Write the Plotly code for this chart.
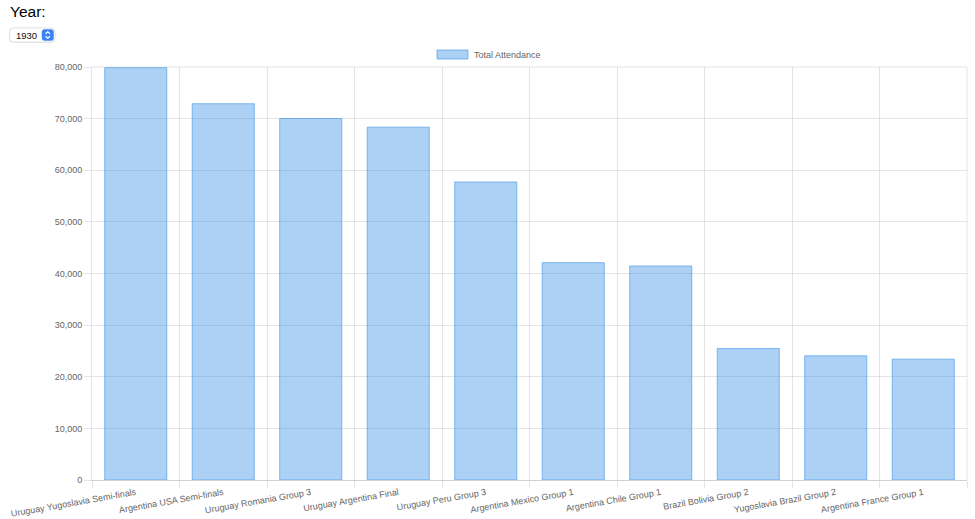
import plotly.graph_objects as go

matches = [
    "Uruguay Yugoslavia Semi-finals",
    "Argentina USA Semi-finals",
    "Uruguay Romania Group 3",
    "Uruguay Argentina Final",
    "Uruguay Peru Group 3",
    "Argentina Mexico Group 1",
    "Argentina Chile Group 1",
    "Brazil Bolivia Group 2",
    "Yugoslavia Brazil Group 2",
    "Argentina France Group 1",
]
attendance = [79867, 72886, 70022, 68346, 57735, 42100, 41459, 25466, 24059, 23409]
series_name = "Total Attendance"
year_label = "Year:"
selected_year = "1930"

W, H = 975, 519
L, R, T, B = 92, 8, 67, 39
PW, PH = W - L - R, H - T - B


def px(x):
    return (x - L) / PW


def py(y):
    return (H - B - y) / PH


def rounded(x0, y0, x1, y1, r):
    # rounded rectangle path in paper coordinates from pixel corners
    return (
        f"M {px(x0 + r)},{py(y0)} L {px(x1 - r)},{py(y0)} "
        f"Q {px(x1)},{py(y0)} {px(x1)},{py(y0 + r)} "
        f"L {px(x1)},{py(y1 - r)} Q {px(x1)},{py(y1)} {px(x1 - r)},{py(y1)} "
        f"L {px(x0 + r)},{py(y1)} Q {px(x0)},{py(y1)} {px(x0)},{py(y1 - r)} "
        f"L {px(x0)},{py(y0 + r)} Q {px(x0)},{py(y0)} {px(x0 + r)},{py(y0)} Z"
    )


FONT = "Liberation Sans, Arial, sans-serif"
FILL = "rgba(50,140,230,0.40)"
EDGE = "rgba(50,140,230,0.55)"
GRID = "rgba(0,0,0,0.10)"

fig = go.Figure(
    go.Bar(
        x=matches,
        y=attendance,
        name=series_name,
        marker=dict(color=FILL, line=dict(color=EDGE, width=1)),
        showlegend=False,
    )
)

shapes = [
    # legend swatch
    dict(type="rect", xref="paper", yref="paper",
         x0=px(437), x1=px(468), y0=py(59), y1=py(50),
         fillcolor=FILL, line=dict(color=EDGE, width=1)),
    # select box shadow + box
    dict(type="path", xref="paper", yref="paper",
         path=rounded(9, 27.5, 55.5, 43, 4),
         fillcolor="rgba(0,0,0,0.06)", line=dict(width=0)),
    dict(type="path", xref="paper", yref="paper",
         path=rounded(9.5, 28, 55, 42, 4),
         fillcolor="white", line=dict(color="rgba(0,0,0,0.12)", width=0.8)),
    # select blue button
    dict(type="path", xref="paper", yref="paper",
         path=rounded(42, 29.5, 53.5, 40.5, 2.5),
         fillcolor="#3b82f6", line=dict(color="#3b82f6", width=0.5)),
    # up chevron
    dict(type="path", xref="paper", yref="paper",
         path=f"M {px(45.5)},{py(33.7)} L {px(47.75)},{py(31.7)} L {px(50)},{py(33.7)}",
         line=dict(color="white", width=1.2)),
    # down chevron
    dict(type="path", xref="paper", yref="paper",
         path=f"M {px(45.5)},{py(36.3)} L {px(47.75)},{py(38.3)} L {px(50)},{py(36.3)}",
         line=dict(color="white", width=1.2)),
]

annotations = [
    dict(text=series_name, xref="paper", yref="paper", x=px(472), y=py(54.5),
         xanchor="left", yanchor="middle", showarrow=False,
         font=dict(family=FONT, size=9, color="#666")),
    dict(text=year_label, xref="paper", yref="paper", x=px(8), y=py(11.5),
         xanchor="left", yanchor="middle", showarrow=False,
         font=dict(family=FONT, size=15.5, color="#000")),
    dict(text=selected_year, xref="paper", yref="paper", x=px(14), y=py(35),
         xanchor="left", yanchor="middle", showarrow=False,
         font=dict(family=FONT, size=9.5, color="#111")),
]

fig.update_layout(
    width=W, height=H, autosize=False,
    margin=dict(l=L, r=R, t=T, b=B, autoexpand=False),
    paper_bgcolor="white", plot_bgcolor="white",
    bargap=0.29,
    font=dict(family=FONT, size=9, color="#666"),
    shapes=shapes, annotations=annotations,
)
fig.update_xaxes(
    type="category", tickson="boundaries", tickangle=-10,
    showgrid=True, gridcolor=GRID, gridwidth=1,
    ticks="outside", ticklen=7, tickcolor=GRID,
    ticklabelstandoff=3,
    showline=True, linecolor="rgba(0,0,0,0.18)", mirror=False,
    tickfont=dict(family=FONT, size=9, color="#666"),
    automargin=False,
)
fig.update_yaxes(
    range=[0, 80000], dtick=10000, tickformat=",",
    showgrid=True, gridcolor=GRID, gridwidth=1,
    ticks="outside", ticklen=7, tickcolor=GRID,
    showline=True, linecolor=GRID,
    zeroline=False,
    tickfont=dict(family=FONT, size=9, color="#666"),
    automargin=False,
)
fig.add_shape(type="line", xref="paper", yref="paper", x0=1, x1=1, y0=0, y1=1,
              line=dict(color=GRID, width=1))
fig.add_shape(type="line", xref="paper", yref="paper", x0=0, x1=1, y0=1, y1=1,
              line=dict(color=GRID, width=1))

fig.write_html(
    "out.html",
    config={"displayModeBar": False},
    post_script="document.body.style.margin='0';document.body.style.overflow='hidden';",
)
